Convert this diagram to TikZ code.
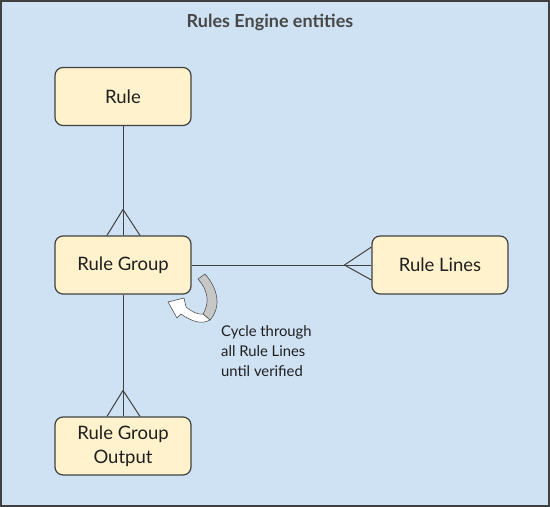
\documentclass[tikz,border=0pt]{standalone}
\usepackage{fontspec}
\setmainfont{Lato}
\usetikzlibrary{calc}
\definecolor{bgblue}{HTML}{CFE2F3}
\definecolor{boxfill}{HTML}{FFF2CC}
\definecolor{edge}{HTML}{404040}
\tikzset{
  entity/.style={draw=edge, fill=boxfill, line width=1.2pt, rounded corners=8pt,
    minimum width=136pt, minimum height=58pt, align=center,
    font=\fontsize{18.5}{24}\selectfont, text=black!88},
  link/.style={draw=edge, line width=1pt}
}
\begin{document}
\begin{tikzpicture}[x=1pt,y=-1pt]
\useasboundingbox (0,0) rectangle (550,507);
\filldraw [fill=bgblue, draw=edge, line width=2pt] (1,1) rectangle (549,506);
\node [text=black!72, font=\fontsize{18}{20}\selectfont\bfseries] (title) at (270,22) {Rules Engine entities};

\node [entity] (rule) at (123,96.5) {Rule};
\node [entity] (group) at (123,265) {Rule Group};
\node [entity] (lines) at (440,265) {Rule Lines};
\node [entity] (output) at (123,446) {Rule Group\\Output};

% one to many
\draw [link] (rule) -- (group);
\draw [link] ($(group.north)+(0,-26)$) coordinate(c1) -- ($(group.north)+(-16,0)$);
\draw [link] (c1) -- ($(group.north)+(17,0)$);
\draw [link] (group) -- (lines);
\draw [link] ($(lines.west)+(-27,0)$) coordinate(c2) -- ($(lines.west)+(0,-18)$);
\draw [link] (c2) -- ($(lines.west)+(0,15)$);
\draw [link] (group) -- (output);
\draw [link] ($(output.north)+(0,-26)$) coordinate(c3) -- ($(output.north)+(-16,0)$);
\draw [link] (c3) -- ($(output.north)+(17,0)$);

% cycle arrow
\filldraw [fill=black!22, draw=edge, line width=0.5pt] (198,279) -- (205,274) .. controls (219,290) and (221,308) .. (210,320) -- (203,314) .. controls (210,303) and (208,290) .. cycle;
\filldraw [fill=white, draw=edge, line width=0.5pt] (210,320) .. controls (201,325) and (191,321) .. (181,314) -- (177,318) -- (168,302) -- (184,298) -- (186,307) .. controls (192,312) and (199,315) .. (203,314) -- cycle;
\node [anchor=north west, align=left, text=black!88, font=\fontsize{14.8}{20}\selectfont, inner sep=0pt] (note) at (221,325) {Cycle through\\all Rule Lines\\until verified};
\end{tikzpicture}
\end{document}
